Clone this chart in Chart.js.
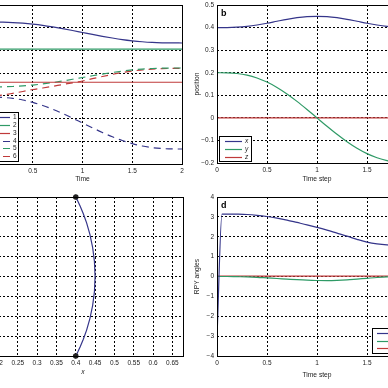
<!DOCTYPE html>
<html>
<head>
<meta charset="utf-8">
<script src="https://cdn.jsdelivr.net/npm/chart.js@4.4.0/dist/chart.umd.min.js"></script>
<style>
html, body { margin: 0; padding: 0; background: #fff; width: 388px; height: 388px; overflow: hidden; }
canvas { position: absolute; }
</style>
</head>
<body>
<canvas id="chartA" width="256" height="186" style="left:-62px;top:-3px"></canvas>
<canvas id="chartB" width="236" height="186" style="left:193px;top:-3px"></canvas>
<canvas id="chartC" width="257" height="187" style="left:-62px;top:189px"></canvas>
<canvas id="chartD" width="236" height="190" style="left:193px;top:189px"></canvas>
<script>
// time axis shared by panels a and b
var time = [0, 0.1, 0.2, 0.3, 0.4, 0.5, 0.6, 0.7, 0.8, 0.9, 1, 1.1, 1.2, 1.3, 1.4, 1.5, 1.6, 1.7, 1.8, 1.9, 2];

// panel a: joint values 1..6
var joint1 = [1.126, 1.125, 1.122, 1.114, 1.099, 1.078, 1.051, 1.017, 0.979, 0.938, 0.895, 0.852, 0.811, 0.773, 0.739, 0.712, 0.691, 0.676, 0.668, 0.665, 0.664];
var joint2 = [0.53, 0.53, 0.53, 0.53, 0.53, 0.53, 0.53, 0.53, 0.53, 0.53, 0.53, 0.53, 0.53, 0.53, 0.53, 0.53, 0.53, 0.53, 0.53, 0.53, 0.53];
var joint3 = [-0.2, -0.2, -0.2, -0.2, -0.2, -0.2, -0.2, -0.2, -0.2, -0.2, -0.2, -0.2, -0.2, -0.2, -0.2, -0.2, -0.2, -0.2, -0.2, -0.2, -0.2];
var joint4 = [-0.525, -0.526, -0.535, -0.555, -0.591, -0.644, -0.712, -0.794, -0.888, -0.991, -1.098, -1.204, -1.307, -1.401, -1.483, -1.551, -1.604, -1.640, -1.660, -1.669, -1.670];
var joint5 = [-0.305, -0.305, -0.301, -0.294, -0.281, -0.262, -0.237, -0.207, -0.172, -0.135, -0.096, -0.057, -0.020, 0.015, 0.045, 0.070, 0.089, 0.102, 0.109, 0.113, 0.113];
var joint6 = [-0.525, -0.503, -0.481, -0.444, -0.404, -0.360, -0.327, -0.290, -0.250, -0.213, -0.173, -0.122, -0.074, -0.028, 0.014, 0.047, 0.069, 0.087, 0.098, 0.104, 0.107];
var jointLabels = ['1', '2', '3', '4', '5', '6'];

// panel b / c: end effector position
var posX = [0.4, 0.4002, 0.4018, 0.4055, 0.4115, 0.4193, 0.4281, 0.4366, 0.4437, 0.4484, 0.45, 0.4484, 0.4437, 0.4366, 0.4281, 0.4193, 0.4115, 0.4055, 0.4018, 0.4002, 0.4];
var posY = [0.2, 0.1995, 0.1966, 0.1894, 0.1768, 0.1586, 0.1348, 0.1059, 0.073, 0.0373, 0, -0.0373, -0.073, -0.1059, -0.1348, -0.1586, -0.1768, -0.1894, -0.1966, -0.1995, -0.2];
var posZ = [0, 0, 0, 0, 0, 0, 0, 0, 0, 0, 0, 0, 0, 0, 0, 0, 0, 0, 0, 0, 0];
var posLabels = ['x', 'y', 'z'];

// panel d: RPY angles
var timeD = [0, 0.05, 0.1, 0.2, 0.3, 0.4, 0.5, 0.6, 0.7, 0.8, 0.9, 1, 1.1, 1.2, 1.3, 1.4, 1.5, 1.6, 1.7, 1.8, 1.9, 2];
var rpy1 = [-3.05, 3.14, 3.14, 3.135, 3.12, 3.08, 3.02, 2.94, 2.84, 2.72, 2.6, 2.47, 2.33, 2.18, 2.03, 1.87, 1.73, 1.64, 1.59, 1.575, 1.571, 1.571];
var rpy2 = [0, 0, 0, -0.01, -0.02, -0.04, -0.07, -0.1, -0.13, -0.16, -0.185, -0.2, -0.205, -0.195, -0.17, -0.13, -0.09, -0.05, -0.02, -0.01, 0, 0];
var rpy3 = [0.02, 0.02, 0.02, 0.02, 0.02, 0.02, 0.02, 0.02, 0.02, 0.02, 0.02, 0.02, 0.02, 0.02, 0.02, 0.02, 0.02, 0.02, 0.02, 0.02, 0.02, 0.02];
var rpyLabels = ['roll', 'pitch', 'yaw'];

var NAVY = '#35358a';
var GREEN = '#2f9a66';
var RED = '#bf3a3a';
var FONT = 'Liberation Sans';

function pts(xs, ys) {
    return xs.map(function (x, i) { return { x: x, y: ys[i] }; });
}

function tickText(v) {
    var n = +(+v).toFixed(4);
    return (n < 0 ? '\u2212' : '') + Math.abs(n);
}

function line(label, xs, ys, color, dash) {
    return {
        label: label,
        data: pts(xs, ys),
        borderColor: color,
        borderWidth: 1.2,
        borderDash: dash || [],
        pointRadius: 0,
        fill: false,
        cubicInterpolationMode: 'monotone'
    };
}

function axis(min, max, step, title, size, italic) {
    return {
        type: 'linear',
        min: min,
        max: max,
        afterFit: function (scale) {
            if (scale.isHorizontal()) scale.height = size; else scale.width = size;
        },
        ticks: {
            stepSize: step,
            includeBounds: false,
            autoSkip: false,
            maxRotation: 0,
            padding: 3,
            color: '#222',
            font: { family: FONT, size: 6.5 },
            callback: tickText
        },
        grid: { color: '#000', lineWidth: 1, drawTicks: false },
        border: { display: false, dash: [2, 2] },
        title: {
            display: !!title,
            text: title,
            color: '#222',
            padding: 0,
            font: { family: FONT, size: 6.7, style: italic ? 'italic' : 'normal' }
        }
    };
}

// draws the full box, the panel letter and a boxed legend inside the axes
var framePlugin = {
    id: 'frame',
    afterDraw: function (chart, args, opts) {
        var ctx = chart.ctx, a = chart.chartArea;
        ctx.save();
        if (opts.legend) {
            var lg = opts.legend;
            var sets = chart.data.datasets;
            var h = sets.length * lg.row + 2;
            var x0 = lg.side === 'right' ? a.right - lg.dx - lg.w : a.left + lg.dx;
            var y0 = a.bottom - lg.dy - h;
            ctx.fillStyle = '#fff';
            ctx.fillRect(x0, y0, lg.w, h);
            ctx.strokeStyle = '#000';
            ctx.lineWidth = 1;
            ctx.strokeRect(Math.round(x0) + 0.5, Math.round(y0) + 0.5, Math.round(lg.w), Math.round(h));
            sets.forEach(function (ds, i) {
                var y = Math.round(y0 + 1 + lg.row * (i + 0.5)) + 0.5;
                ctx.strokeStyle = ds.borderColor;
                ctx.lineWidth = ds.borderWidth;
                ctx.setLineDash(ds.borderDash || []);
                ctx.beginPath();
                ctx.moveTo(x0 + lg.inset, y);
                ctx.lineTo(x0 + lg.inset + lg.sample, y);
                ctx.stroke();
                ctx.setLineDash([]);
                ctx.fillStyle = '#222';
                ctx.font = (lg.italic ? 'italic ' : '') + '6.5px "' + FONT + '"';
                ctx.textBaseline = 'middle';
                ctx.textAlign = 'left';
                ctx.fillText(ds.label, x0 + lg.inset + lg.sample + 3, y);
            });
        }
        if (opts.letter) {
            ctx.fillStyle = '#000';
            ctx.font = 'bold 9px "' + FONT + '"';
            ctx.textBaseline = 'top';
            ctx.textAlign = 'left';
            ctx.fillText(opts.letter, a.left + 4, a.top + 4);
        }
        ctx.strokeStyle = '#000';
        ctx.lineWidth = 1;
        ctx.strokeRect(Math.round(a.left) + 0.5, Math.round(a.top) + 0.5, Math.round(a.right - a.left), Math.round(a.bottom - a.top));
        ctx.restore();
    }
};

function makeChart(id, datasets, xAxis, yAxis, frame) {
    return new Chart(document.getElementById(id), {
        type: 'line',
        data: { datasets: datasets },
        options: {
            responsive: false,
            animation: false,
            devicePixelRatio: 1,
            layout: { padding: { top: 8, right: 12, left: 0, bottom: 0 } },
            scales: { x: xAxis, y: yAxis },
            plugins: {
                legend: { display: false },
                tooltip: { enabled: false },
                frame: frame
            }
        },
        plugins: [framePlugin]
    });
}

// a: joint trajectories
makeChart('chartA', [
    line(jointLabels[0], time, joint1, NAVY),
    line(jointLabels[1], time, joint2, GREEN),
    line(jointLabels[2], time, joint3, RED),
    line(jointLabels[3], time, joint4, NAVY, [7, 5]),
    line(jointLabels[4], time, joint5, GREEN, [7, 5]),
    line(jointLabels[5], time, joint6, RED, [7, 5])
], axis(0, 2, 0.5, 'Time', 19), axis(-2, 1.5, 0.5, '', 45),
    { legend: { side: 'left', dx: 2, dy: 3, w: 33, row: 7.8, inset: 6, sample: 19 } });

// b: position vs time
makeChart('chartB', [
    line(posLabels[0], time, posX, NAVY),
    line(posLabels[1], time, posY, GREEN),
    line(posLabels[2], time, posZ, RED)
], axis(0, 2, 0.5, 'Time step', 20), axis(-0.2, 0.5, 0.1, 'position', 24),
    { letter: 'b', legend: { side: 'left', dx: 2, dy: 1.5, w: 32, row: 7.8, inset: 6, sample: 17, italic: true } });

// c: path in the x-y plane
var pathSet = line('path', posX, posY, NAVY);
pathSet.cubicInterpolationMode = 'default';
pathSet.tension = 0;
pathSet.clip = false;
pathSet.pointRadius = function (c) { return (c.dataIndex === 0 || c.dataIndex === posX.length - 1) ? 2.2 : 0; };
pathSet.pointBackgroundColor = '#222';
pathSet.pointBorderColor = '#222';
makeChart('chartC', [pathSet],
    axis(0.16, 0.6775, 0.05, 'x', 20, true), axis(-0.2, 0.2, 0.05, '', 45), {});

// d: RPY angles
makeChart('chartD', [
    line(rpyLabels[0], timeD, rpy1, NAVY),
    line(rpyLabels[1], timeD, rpy2, GREEN),
    line(rpyLabels[2], timeD, rpy3, RED)
], axis(0, 2, 0.5, 'Time step', 23), axis(-4, 4, 1, 'RPY angles', 24),
    { letter: 'd', legend: { side: 'right', dx: 3, dy: 3, w: 42, row: 7.6, inset: 5, sample: 18 } });
</script>
</body>
</html>
